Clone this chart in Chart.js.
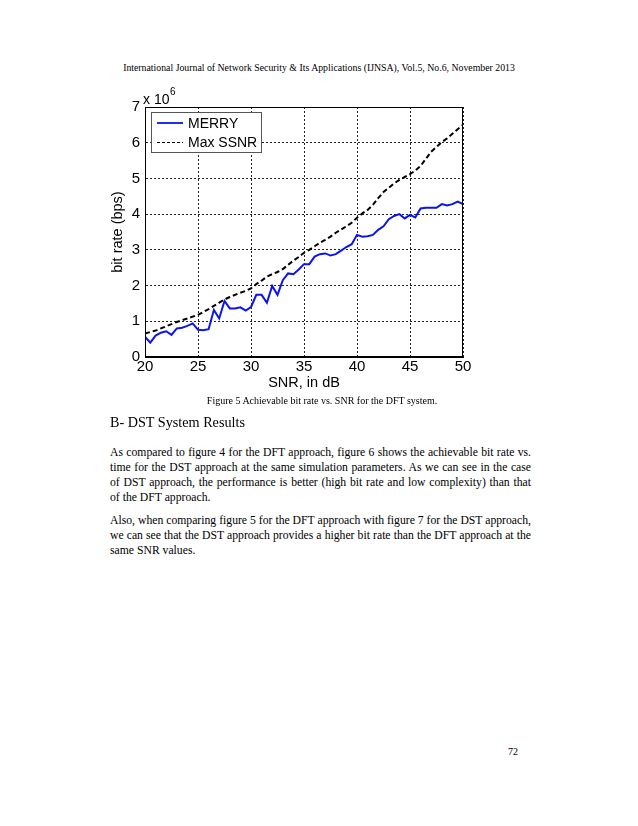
<!DOCTYPE html>
<html>
<head>
<meta charset="utf-8">
<script src="https://cdn.jsdelivr.net/npm/chart.js@4.4.0/dist/chart.umd.min.js"></script>
<style>
  body { margin: 0; background: #fff; }
  #page { position: relative; width: 638px; height: 826px; overflow: hidden; font-family: "Liberation Serif", "Times New Roman", serif; color: #000; }
  #chartBox { position: absolute; left: 0; top: 0; width: 638px; height: 420px; }
  .t { position: absolute; white-space: nowrap; }
  .line { position: absolute; left: 110px; width: 421px; font-size: 11.7px; text-align: justify; text-align-last: justify; white-space: nowrap; }
  .last { text-align-last: left; }
</style>
</head>
<body>
<div id="page">
  <div class="t" style="left:0;width:638px;text-align:center;top:62px;font-size:9.8px;">International Journal of Network Security &amp; Its Applications (IJNSA), Vol.5, No.6, November 2013</div>
  <div id="chartBox"><canvas id="myChart"></canvas></div>
  <div class="t" style="left:0;width:644px;text-align:center;top:395px;font-size:10px;">Figure 5 Achievable bit rate vs. SNR for the DFT system.</div>
  <div class="t" style="left:110px;top:414px;font-size:14.2px;">B- DST System Results</div>
  <div class="line" style="top:446px;">As compared to figure 4 for the DFT approach, figure 6 shows the achievable bit rate vs.</div>
  <div class="line" style="top:461px;">time for the DST approach at the same simulation parameters. As we can see in the case</div>
  <div class="line" style="top:476px;">of DST approach, the performance is better (high bit rate and low complexity) than that</div>
  <div class="line last" style="top:491px;">of the DFT approach.</div>
  <div class="line" style="top:514px;">Also, when comparing figure 5 for the DFT approach with figure 7 for the DST approach,</div>
  <div class="line" style="top:529px;">we can see that the DST approach provides a higher bit rate than the DFT approach at the</div>
  <div class="line last" style="top:544px;">same SNR values.</div>
  <div class="t" style="left:508px;top:746px;font-size:10px;">72</div>
</div>
<script>
// SNR values in dB (0.5 dB steps)
var snr = [20,20.5,21,21.5,22,22.5,23,23.5,24,24.5,25,25.5,26,26.5,27,27.5,28,28.5,29,29.5,
  30,30.5,31,31.5,32,32.5,33,33.5,34,34.5,35,35.5,36,36.5,37,37.5,38,38.5,39,39.5,
  40,40.5,41,41.5,42,42.5,43,43.5,44,44.5,45,45.5,46,46.5,47,47.5,48,48.5,49,49.5,50];

// bit rate, x 10^6 bps
var merry = [0.57,0.40,0.60,0.68,0.72,0.62,0.80,0.82,0.87,0.94,0.76,0.75,0.78,1.32,1.08,1.57,1.36,1.36,1.39,1.30,
  1.40,1.74,1.74,1.52,1.99,1.74,2.15,2.34,2.32,2.45,2.60,2.60,2.81,2.88,2.90,2.84,2.88,2.98,3.08,3.16,
  3.42,3.37,3.38,3.42,3.56,3.66,3.86,3.95,4.00,3.88,3.98,3.91,4.16,4.18,4.18,4.18,4.28,4.24,4.28,4.35,4.28];

var maxSsnr = [0.66,0.70,0.74,0.80,0.86,0.92,0.98,1.03,1.08,1.13,1.18,1.26,1.34,1.43,1.52,1.61,1.68,1.74,1.80,1.85,
  1.92,2.04,2.14,2.25,2.32,2.38,2.46,2.58,2.70,2.80,2.92,3.00,3.10,3.20,3.28,3.37,3.48,3.57,3.66,3.76,
  3.90,4.02,4.12,4.26,4.45,4.62,4.74,4.86,4.96,5.04,5.12,5.22,5.35,5.55,5.75,5.88,6.02,6.12,6.25,6.38,6.50];

var seriesNames = ["MERRY", "Max SSNR"];
var xTicks = [20,25,30,35,40,45,50];
var yTicks = [0,1,2,3,4,5,6,7];

function pts(ys) {
  return snr.map(function(x, i) { return {x: x, y: ys[i]}; });
}

var FONT = "Liberation Sans, Arial, sans-serif";

// box around plot, legend and the x10^6 exponent
var extras = {
  id: 'extras',
  afterDraw: function(chart) {
    var ctx = chart.ctx;
    var a = chart.chartArea;
    ctx.save();
    ctx.strokeStyle = '#000';
    ctx.lineWidth = 1;
    ctx.setLineDash([]);
    ctx.strokeRect(a.left + 0.5, a.top + 0.5, a.right - a.left - 1, a.bottom - a.top - 1);

    // exponent
    ctx.fillStyle = '#000';
    ctx.textBaseline = 'alphabetic';
    ctx.textAlign = 'left';
    ctx.font = '14px ' + FONT;
    ctx.fillText('x 10', a.left - 2, a.top - 3);
    ctx.font = '10px ' + FONT;
    ctx.fillText('6', a.left + 25, a.top - 12);

    // legend
    var lx = a.left + 6, ly = a.top + 5, lw = 110, lh = 40;
    ctx.fillStyle = '#fff';
    ctx.fillRect(lx, ly, lw, lh);
    ctx.strokeStyle = '#555';
    ctx.strokeRect(lx + 0.5, ly + 0.5, lw, lh);
    ctx.font = '14px ' + FONT;
    ctx.fillStyle = '#000';
    ctx.textBaseline = 'middle';
    var ds = chart.data.datasets;
    for (var i = 0; i < ds.length; i++) {
      var yy = ly + 11 + i * 19.5;
      ctx.beginPath();
      ctx.strokeStyle = ds[i].borderColor;
      ctx.lineWidth = i === 0 ? 1.8 : 1.2;
      ctx.setLineDash(i === 0 ? [] : [3, 2]);
      ctx.moveTo(lx + 6, yy);
      ctx.lineTo(lx + 32, yy);
      ctx.stroke();
      ctx.setLineDash([]);
      ctx.fillText(ds[i].label, lx + 37, yy + 1);
    }
    ctx.restore();
  }
};

var ctx = document.getElementById('myChart');
var myChart = new Chart(ctx, {
  type: 'line',
  data: {
    datasets: [{
      label: seriesNames[0],
      data: pts(merry),
      borderColor: '#0a14f0',
      borderWidth: 2,
      pointRadius: 0,
      tension: 0,
      fill: false
    }, {
      label: seriesNames[1],
      data: pts(maxSsnr),
      borderColor: '#000',
      borderWidth: 2,
      borderDash: [5, 3],
      pointRadius: 0,
      tension: 0,
      fill: false
    }]
  },
  options: {
    responsive: true,
    maintainAspectRatio: false,
    animation: false,
    layout: { padding: { left: 109, top: 107, right: 175, bottom: 28 } },
    plugins: { legend: { display: false }, tooltip: { enabled: false } },
    scales: {
      x: {
        type: 'linear',
        min: 20, max: 50,
        afterBuildTicks: function(axis) { axis.ticks = xTicks.map(function(v) { return {value: v}; }); },
        afterFit: function(axis) { axis.height = 35; },
        ticks: { color: '#000', font: { family: FONT, size: 15 }, padding: 1, maxRotation: 0 },
        grid: { color: '#222', lineWidth: 1, drawTicks: false },
        border: { display: true, color: '#000', dash: [2, 2] },
        title: { display: true, text: 'SNR, in dB', color: '#000', font: { family: FONT, size: 14.5 }, padding: 0 }
      },
      y: {
        min: 0, max: 7,
        afterBuildTicks: function(axis) { axis.ticks = yTicks.map(function(v) { return {value: v}; }); },
        afterFit: function(axis) { axis.width = 36; },
        ticks: { color: '#000', font: { family: FONT, size: 15 }, padding: 5 },
        grid: { color: '#222', lineWidth: 1, drawTicks: false },
        border: { display: true, color: '#000', dash: [2, 2] },
        title: { display: true, text: 'bit rate (bps)', color: '#000', font: { family: FONT, size: 14.5 }, padding: 0 }
      }
    }
  },
  plugins: [extras]
});
</script>
</body>
</html>
